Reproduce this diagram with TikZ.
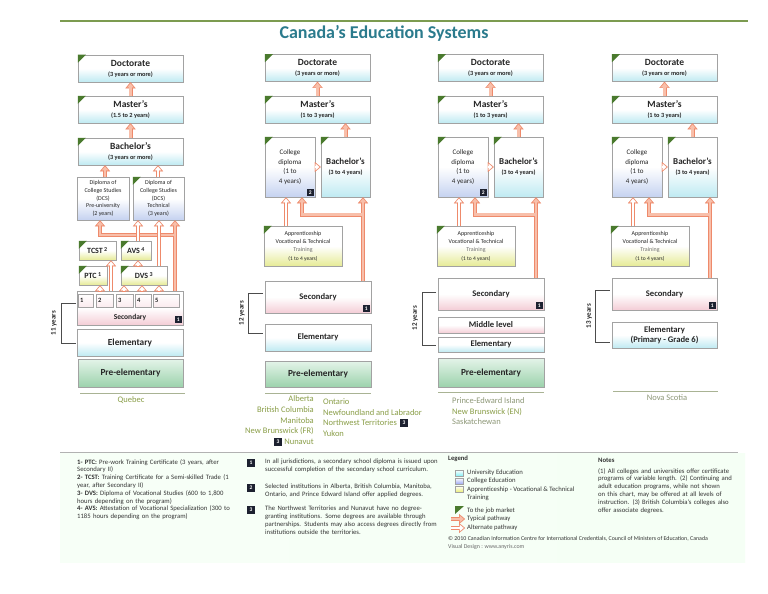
\documentclass[tikz,border=0pt]{standalone}
\usepackage{fontspec}
\setmainfont{Carlito}
\usetikzlibrary{arrows.meta}

\definecolor{unicyan}{HTML}{BFEAF2}
\definecolor{colblue}{HTML}{C5D2F0}
\definecolor{appyel}{HTML}{E6EB96}
\definecolor{secpink}{HTML}{F4CDD6}
\definecolor{pelgreen}{HTML}{9CD2AC}
\definecolor{pelgreenlt}{HTML}{E4F4E9}
\definecolor{jobgreen}{HTML}{4A7A2E}
\definecolor{arrline}{HTML}{EE8A6B}
\definecolor{arrfill}{HTML}{F8BFAA}
\definecolor{titleteal}{HTML}{2B7B8D}
\definecolor{barolive}{HTML}{7C9B50}
\definecolor{provolive}{HTML}{8A9E48}
\definecolor{provgray}{HTML}{8E9878}
\definecolor{ruleol}{HTML}{A9B394}
\definecolor{boxgray}{HTML}{A2A2A2}
\definecolor{bdgnavy}{HTML}{1D2130}

\newcommand{\yrs}[1]{{\fontsize{6.3}{7.5}\selectfont #1}}
\hyphenpenalty=10000

\begin{document}
\begin{tikzpicture}[x=1pt,y=-1pt]
  \tikzstyle{box}=[draw=boxgray, line width=0.5pt, inner sep=1pt, align=center, text=black!85]
  \tikzstyle{uni}=[box, top color=white, bottom color=unicyan, middle color=white, minimum width=105, minimum height=27, font=\fontsize{9.5}{10}\selectfont\bfseries]
  \tikzstyle{coll}=[box, top color=white, bottom color=colblue, middle color=white]
  \tikzstyle{appr}=[box, top color=white, bottom color=appyel, middle color=white]
  \tikzstyle{sec}=[box, top color=white, bottom color=secpink, middle color=white]
  \tikzstyle{elem}=[box, top color=white, bottom color=unicyan, middle color=white]
  \tikzstyle{pel}=[box, top color=pelgreenlt, bottom color=pelgreen, font=\fontsize{9.3}{10}\selectfont\bfseries]
  \tikzstyle{lvl}=[font=\fontsize{8.6}{10}\selectfont\bfseries]
  \tikzstyle{dcs}=[font=\fontsize{6}{7.6}\selectfont]
  \tikzstyle{cert}=[font=\fontsize{8}{9}\selectfont\bfseries, minimum height=19]
  \tikzstyle{dipl}=[font=\fontsize{7}{9.6}\selectfont]
  \tikzstyle{train}=[font=\fontsize{6}{8.3}\selectfont]
  \tikzstyle{numbox}=[draw=boxgray, line width=0.4pt, top color=white, bottom color=secpink!40, minimum height=13, inner sep=0pt]
  \tikzstyle{numtxt}=[font=\fontsize{6.5}{7}\selectfont\bfseries, inner sep=0pt, text=black!85]
  \tikzstyle{badge}=[fill=bdgnavy, text=white, font=\fontsize{5.5}{6}\selectfont\bfseries, minimum size=7.5, inner sep=0pt]
  \tikzstyle{prov}=[font=\fontsize{8.5}{9}\selectfont, text=provolive, inner sep=0pt]
  \tikzstyle{yrlbl}=[font=\fontsize{7}{8}\selectfont\bfseries, text=black!85, rotate=90]
  \tikzstyle{rule}=[draw=ruleol, line width=0.8pt]
  \tikzstyle{brk}=[draw=black!70, line width=0.5pt]
  \tikzstyle{fnote}=[font=\fontsize{6.7}{7.8}\selectfont, align=left, inner sep=0pt, text=black!80]
  \tikzstyle{swatch}=[draw=boxgray, line width=0.3pt, minimum width=8, minimum height=6, inner sep=0pt]
  \tikzstyle{typout}=[draw=arrline, line width=4pt, -{Triangle[width=10pt,length=6pt,line width=0.1pt]}]
  \tikzstyle{typin}=[draw=arrfill, line width=2.4pt, shorten >=1.3pt, -{Triangle[width=6.5pt,length=3.9pt,line width=0.1pt]}]
  \tikzstyle{altout}=[typout]
  \tikzstyle{altin}=[typin, draw=white]

  \useasboundingbox (0,0) rectangle (768,594);
  \fill[white] (0,0) rectangle (768,594);

  % titulo
  \draw[barolive, line width=2.5pt] (60,21) -- (748,21);
  \node[font=\fontsize{18}{20}\selectfont\bfseries, text=titleteal] (title) at (384,33) {Canada’s Education Systems};

  % quebec
  \node[uni] (qdoc) at (130.5,68.5) {Doctorate\\\yrs{(3 years or more)}};
  \node[uni] (qmas) at (130.5,109.5) {Master’s\\\yrs{(1.5 to 2 years)}};
  \node[uni] (qbach) at (130.5,151.5) {Bachelor’s\\\yrs{(3 years or more)}};
  \node[coll, dcs, minimum width=52, minimum height=43] (qpre) at (103,198.5) {Diploma of\\College Studies\\(DCS)\\Pre-university\\(2 years)};
  \node[coll, dcs, minimum width=51, minimum height=43] (qtec) at (158.5,198.5) {Diploma of\\College Studies\\(DCS)\\Technical\\(3 years)};
  \node[appr, cert, minimum width=37] (qtcst) at (97.5,250.5) {TCST\,\textsuperscript{2}};
  \node[appr, cert, minimum width=30] (qavs) at (136,250.5) {AVS\,\textsuperscript{4}};
  \node[appr, cert, minimum width=28] (qptc) at (93,275.5) {PTC\,\textsuperscript{1}};
  \node[appr, cert, minimum width=46] (qdvs) at (144,275.5) {DVS\,\textsuperscript{3}};
  \node[sec, minimum width=106, minimum height=34] (qsec) at (130,308) {};
  \node[font=\fontsize{7.5}{8}\selectfont\bfseries, text=black!85] (qseclbl) at (130,317.5) {Secondary};
  \foreach \n/\x/\w in {1/78/15,2/96/17,3/116/17,4/135/16,5/153/26} {
    \node[numbox, minimum width=\w, anchor=west] (qn\n) at (\x,300.5) {};
    \node[numtxt, anchor=west] (qd\n) at ([xshift=2pt]qn\n.west) {\n};
  }
  \node[badge] (qb1) at ([xshift=-5pt,yshift=6pt]qsec.south east) {1};
  \node[elem, minimum width=106, minimum height=27, font=\fontsize{9.3}{10}\selectfont\bfseries] (qelem) at (130,342.5) {Elementary};
  \node[pel, minimum width=105, minimum height=28] (qpel) at (130.5,373) {Pre-elementary};
  \draw[rule] (80,393) -- (185,393);
  \node[prov] (qlbl) at (131,400) {Quebec};
  \draw[brk] (76,303) -- (61,303) -- (61,343) -- (76,343);
  \node[yrlbl] (qyr) at (54,323) {11 years};

  % colunas 2 a 4, parte universitaria
  \foreach \c/\dx in {c2/0,c3/173,c4/347} {
    \node[uni] (\c-doc) at (317.5+\dx,68) {Doctorate\\\yrs{(3 years or more)}};
    \node[uni] (\c-mas) at (317.5+\dx,109.5) {Master’s\\\yrs{(1 to 3 years)}};
    \node[coll, dipl, minimum width=50, minimum height=60] (\c-col) at (290+\dx,167) {College\\diploma\\(1 to\\4 years)};
    \node[uni, minimum width=49, minimum height=60, font=\fontsize{9}{10}\selectfont\bfseries] (\c-bach) at (345.5+\dx,167) {Bachelor’s\\\yrs{(3 to 4 years)}};
    \node[appr, train, minimum width=78, minimum height=40] (\c-app) at (303+\dx,246) {Apprenticeship\\Vocational \& Technical\\\textcolor{black!55}{Training}\\{\fontsize{5.5}{7}\selectfont (1 to 4 years)}};
  }
  \node[badge] (c2b2) at ([xshift=-5pt,yshift=5pt]c2-col.south east) {2};
  \node[badge] (c3b2) at ([xshift=-5pt,yshift=5pt]c3-col.south east) {2};

  % coluna 2
  \node[sec, lvl, minimum width=106, minimum height=32] (c2-sec) at (318,297) {Secondary};
  \node[badge] (c2b1) at ([xshift=-5pt,yshift=5pt]c2-sec.south east) {1};
  \node[elem, lvl, minimum width=106, minimum height=27] (c2-elem) at (318,337.5) {Elementary};
  \node[pel, minimum width=106, minimum height=26] (c2-pel) at (318,374) {Pre-elementary};
  \draw[rule] (265,393) -- (371,393);
  \draw[brk] (263,293) -- (248,293) -- (248,333) -- (263,333);
  \node[yrlbl] (c2yr) at (242,313) {12 years};
  \node[prov, anchor=east] (pab) at (314,399) {Alberta};
  \node[prov, anchor=east] (pbc) at (314,410) {British Columbia};
  \node[prov, anchor=east] (pmb) at (314,421) {Manitoba};
  \node[prov, anchor=east] (pnbf) at (314,431) {New Brunswick (FR)};
  \node[prov, anchor=east] (pnu) at (314,442) {Nunavut};
  \node[badge] (pnub) at ([xshift=-6pt]pnu.west) {3};
  \node[prov, anchor=west] (pon) at (323,402) {Ontario};
  \node[prov, anchor=west] (pnl) at (323,413) {Newfoundland and Labrador};
  \node[prov, anchor=west] (pnt) at (323,423) {Northwest Territories};
  \node[badge] (pntb) at ([xshift=7pt]pnt.east) {3};
  \node[prov, anchor=west] (pyk) at (323,434) {Yukon};

  % coluna 3
  \node[sec, lvl, minimum width=106, minimum height=32] (c3-sec) at (491,294) {Secondary};
  \node[badge] (c3b1) at ([xshift=-5pt,yshift=5pt]c3-sec.south east) {1};
  \node[sec, lvl, minimum width=106, minimum height=16] (c3-mid) at (491,325) {Middle level};
  \node[elem, lvl, minimum width=106, minimum height=15] (c3-elem) at (491,344.5) {Elementary};
  \node[pel, minimum width=106, minimum height=29] (c3-pel) at (491,372.5) {Pre-elementary};
  \draw[rule] (438,392) -- (544,392);
  \draw[brk] (436,292) -- (422,292) -- (422,345) -- (436,345);
  \node[yrlbl] (c3yr) at (415,318) {12 years};
  \node[prov, text=provgray, anchor=west] (ppe) at (452,401) {Prince-Edward Island};
  \node[prov, anchor=west] (pnbe) at (452,412) {New Brunswick (EN)};
  \node[prov, text=provgray, anchor=west] (psk) at (452,422) {Saskatchewan};

  % coluna 4
  \node[sec, lvl, minimum width=105, minimum height=32] (c4-sec) at (664.5,294) {Secondary};
  \node[badge] (c4b1) at ([xshift=-5pt,yshift=5pt]c4-sec.south east) {1};
  \node[elem, lvl, minimum width=105, minimum height=26] (c4-elem) at (664.5,335) {Elementary\\(Primary - Grade 6)};
  \draw[rule] (613,391) -- (718,391);
  \node[prov, text=provgray] (c4lbl) at (667,398) {Nova Scotia};
  \draw[brk] (610,290) -- (595,290) -- (595,342) -- (610,342);
  \node[yrlbl] (c4yr) at (589,316) {13 years};

  % cantos verdes (mercado de trabalho)
  \foreach \n in {qdoc,qmas,qbach,qtec,qtcst,qavs,qptc,qdvs,c2-doc,c2-mas,c2-col,c2-bach,c2-app,c3-doc,c3-mas,c3-col,c3-bach,c3-app,c4-doc,c4-mas,c4-col,c4-bach,c4-app}
    \fill[jobgreen] (\n.north west) -- ++(8,0) -- ++(-8,8) -- cycle;

  % percursos tipicos
  \foreach \p in {typout,typin} {
    \draw[\p] (qmas.north) -- (qdoc.south);
    \draw[\p] (qbach.north) -- (qmas.south);
    \draw[\p] (105,0 |- qpre.north) -- (105,0 |- qbach.south);
    \draw[\p] (175,0 |- qsec.north) -- (175,0 |- qtec.south);
    \draw[\p] (175,235) -- (100,235) -- (100,0 |- qpre.south);
    \foreach \c/\dx in {c2/0,c3/173,c4/347} {
      \draw[\p] (\c-mas.north) -- (\c-doc.south);
      \draw[\p] (\c-bach.north) -- (\c-bach.north |- \c-mas.south);
      \draw[\p] (363+\dx,0 |- \c-sec.north) -- (363+\dx,0 |- \c-bach.south);
      \draw[\p] (363+\dx,214.5) -- (302+\dx,214.5) -- (302+\dx,0 |- \c-col.south);
    }
  }

  % percursos alternativos
  \foreach \p in {altout,altin} {
    \draw[\p] (158,0 |- qtec.north) -- (158,0 |- qbach.south);
    \draw[\p] (100,0 |- qsec.north) -- (100,0 |- qptc.south);
    \draw[\p] (111,0 |- qsec.north) -- (111,0 |- qtcst.south);
    \draw[\p] (124,0 |- qsec.north) -- (124,0 |- qdvs.south);
    \draw[\p] (142,0 |- qsec.north) -- (142,0 |- qdvs.south);
    \draw[\p] (159,0 |- qsec.north) -- (159,0 |- qdvs.south);
    \draw[\p] (138,0 |- qdvs.north) -- (138,0 |- qavs.south);
    \draw[\p] (138,0 |- qavs.north) -- (138,0 |- qtec.south);
    \draw[\p] (159,0 |- qdvs.north) -- (159,0 |- qtec.south);
    \foreach \c/\dx in {c2/0,c3/173,c4/347} {
      \draw[\p] (\c-col.east) -- (\c-bach.west);
      \draw[\p] (286+\dx,0 |- \c-app.north) -- (286+\dx,0 |- \c-col.south);
    }
  }

  % rodape
  \shade[left color=green!3, middle color=green!14, right color=green!4] (60,453) rectangle (745,562);
  \draw[draw=gray!60, line width=0.5pt] (60,452) -- (738,452);
  \node[fnote, anchor=north west, text width=154] (fn) at (77,459) {\textbf{1- PTC:} Pre-work Training Certificate (3 years, after Secondary II)\\\textbf{2- TCST:} Training Certificate for a Semi-skilled Trade (1 year, after Secondary II)\\\textbf{3- DVS:} Diploma of Vocational Studies (600 to 1,800 hours depending on the program)\\\textbf{4- AVS:} Attestation of Vocational Specialization (300 to 1185 hours depending on the program)};

  \node[badge] (nb1) at (251,463) {1};
  \node[fnote, anchor=north west, text width=176] (nt1) at (265,459) {In all jurisdictions, a secondary school diploma is issued upon successful completion of the secondary school curriculum.};
  \node[badge] (nb2) at (251,488) {2};
  \node[fnote, anchor=north west, text width=176] (nt2) at (265,484) {Selected institutions in Alberta, British Columbia, Manitoba, Ontario, and Prince Edward Island offer applied degrees.};
  \node[badge] (nb3) at (251,510) {3};
  \node[fnote, anchor=north west, text width=176] (nt3) at (265,506) {The Northwest Territories and Nunavut have no degree-granting institutions. Some degrees are available through partnerships. Students may also access degrees directly from institutions outside the territories.};

  % legenda
  \node[fnote, anchor=west] (lgd) at (448,459) {\textbf{Legend}};
  \node[swatch, top color=white, bottom color=unicyan!70!cyan] (sw1) at (459,473) {};
  \node[fnote, anchor=west] (lt1) at (467,473) {University Education};
  \node[swatch, top color=white, bottom color=colblue!80!blue] (sw2) at (459,481) {};
  \node[fnote, anchor=west] (lt2) at (467,481) {College Education};
  \node[swatch, top color=white, bottom color=appyel!80!yellow] (sw3) at (459,489) {};
  \node[fnote, anchor=west] (lt3) at (467,493.5) {Apprenticeship - Vocational \& Technical\\Training};
  \fill[jobgreen] (455,506) -- (464,506) -- (455,514) -- cycle;
  \node[fnote, anchor=west] (lt4) at (467,511) {To the job market};
  \foreach \p in {typout,typin} \draw[\p] (451,519) -- (465,519);
  \node[fnote, anchor=west] (lt5) at (467,519) {Typical pathway};
  \foreach \p in {altout,altin} \draw[\p] (451,528) -- (465,528);
  \node[fnote, anchor=west] (lt6) at (467,528) {Alternate pathway};
  \node[fnote, font=\fontsize{5.9}{6.5}\selectfont, anchor=west] (copy) at (448,539) {© 2010 Canadian Information Centre for International Credentials, Council of Ministers of Education, Canada};
  \node[fnote, font=\fontsize{5.9}{6.5}\selectfont, anchor=west, text=black!60] (dsgn) at (448,547) {Visual Design : www.anyris.com};

  % notas
  \node[fnote, anchor=west] (nth) at (598,460) {\textbf{Notes}};
  \node[fnote, anchor=north west, text width=137] (ntx) at (598,468) {(1) All colleges and universities offer certificate programs of variable length. (2) Continuing and adult education programs, while not shown on this chart, may be offered at all levels of instruction. (3) British Columbia’s colleges also offer associate degrees.};
\end{tikzpicture}
\end{document}
